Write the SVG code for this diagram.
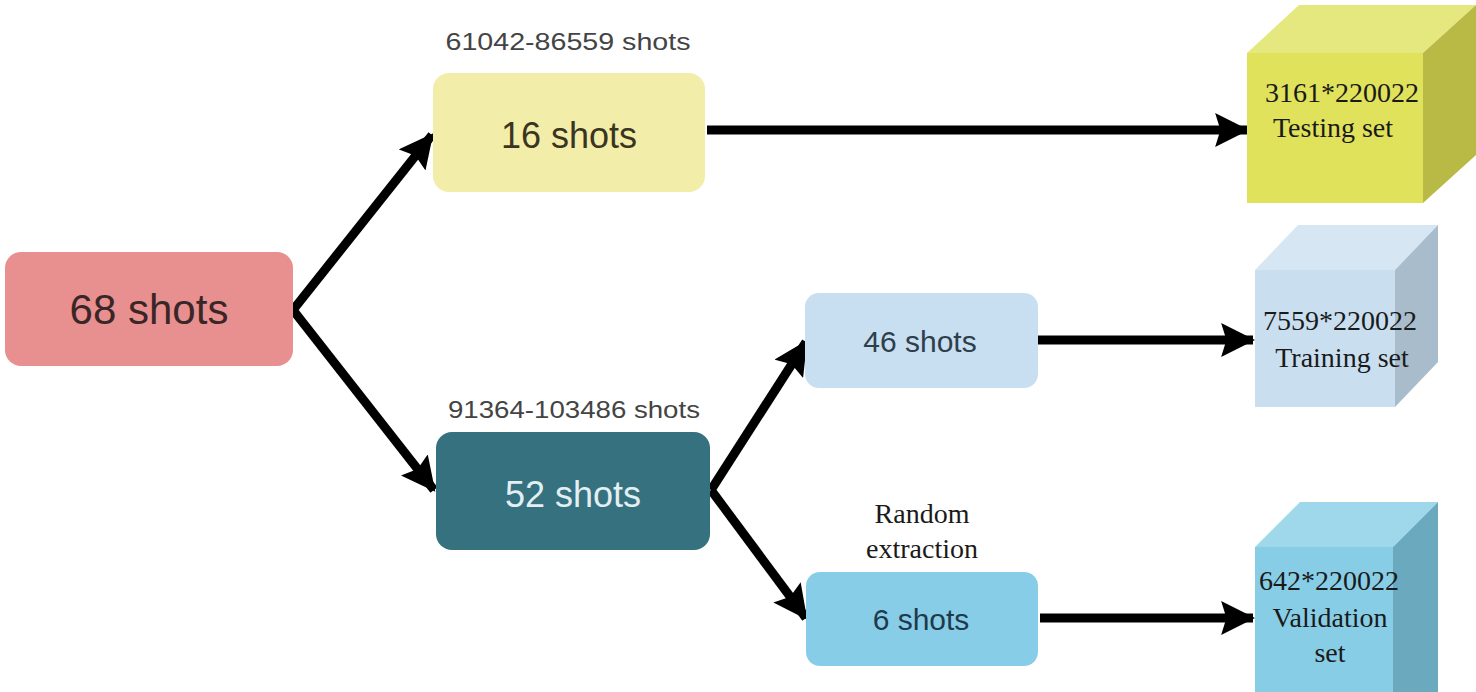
<svg xmlns="http://www.w3.org/2000/svg" width="1476" height="692" viewBox="0 0 1476 692">
<style>
.sans{font-family:"Liberation Sans","Noto Sans",Arial,sans-serif;text-anchor:middle}
.serif{font-family:"Liberation Serif","Times New Roman",serif;text-anchor:middle;fill:#1a1a1a;font-size:28px}
.lbl{font-size:24px;fill:#444}
.conn{stroke:#000;stroke-width:9;fill:none;marker-end:url(#ah)}
</style>
<defs>
<marker id="ah" markerUnits="userSpaceOnUse" markerWidth="34" markerHeight="34" refX="30" refY="16" orient="auto" viewBox="0 0 32 32">
<path d="M0,0 L32,16 L0,32 L5,16 Z" fill="#000"/>
</marker>
</defs>
<rect width="1476" height="692" fill="#fff"/>
<g id="connectors">
<line class="conn" x1="293" y1="310" x2="432" y2="135"/>
<line class="conn" x1="293" y1="310" x2="434" y2="490"/>
<line class="conn" x1="711" y1="490" x2="806" y2="342"/>
<line class="conn" x1="711" y1="490" x2="806" y2="618"/>
<line class="conn" x1="707" y1="130" x2="1247" y2="130"/>
<line class="conn" x1="1038" y1="340" x2="1253" y2="340"/>
<line class="conn" x1="1040" y1="618" x2="1253" y2="618"/>
</g>
<g id="n68">
<rect x="5" y="252" width="288" height="114" rx="16" fill="#e88f8f"/>
<text class="sans" x="149" y="324" font-size="42" fill="#3a2626">68 shots</text>
</g>
<g id="n16">
<text class="sans lbl" x="568" y="50" textLength="245" lengthAdjust="spacingAndGlyphs">61042-86559 shots</text>
<rect x="433" y="73" width="272" height="119" rx="16" fill="#f2eda8"/>
<text class="sans" x="569" y="148" font-size="36" fill="#3a3520">16 shots</text>
</g>
<g id="n52">
<text class="sans lbl" x="574" y="418" textLength="252" lengthAdjust="spacingAndGlyphs">91364-103486 shots</text>
<rect x="436" y="432" width="274" height="118" rx="16" fill="#36717f"/>
<text class="sans" x="573" y="507" font-size="36" fill="#e2eff3">52 shots</text>
</g>
<g id="n46">
<rect x="805" y="293" width="233" height="95" rx="14" fill="#c7dff1"/>
<text class="sans" x="920" y="352" font-size="30" fill="#2f3e4b">46 shots</text>
</g>
<g id="n6">
<text class="serif" x="922" y="523">Random</text>
<text class="serif" x="922" y="558">extraction</text>
<rect x="806" y="572" width="232" height="94" rx="14" fill="#88cde8"/>
<text class="sans" x="921" y="630" font-size="30" fill="#1f3a4a">6 shots</text>
</g>
<g id="testing">
<polygon points="1247,53 1299,5 1476,5 1423,53" fill="#e5e77f"/>
<polygon points="1423,53 1476,5 1476,155 1423,203" fill="#b8ba45"/>
<rect x="1247" y="53" width="176" height="150" fill="#dfe25a"/>
<text class="serif" x="1342" y="102">3161*220022</text>
<text class="serif" x="1333" y="137">Testing set</text>
</g>
<g id="training">
<polygon points="1255,270 1298,225 1438,225 1395,270" fill="#d6e6f3"/>
<polygon points="1395,270 1438,225 1438,362 1395,407" fill="#a9bccb"/>
<rect x="1255" y="270" width="140" height="137" fill="#c9dff0"/>
<text class="serif" x="1340" y="330">7559*220022</text>
<text class="serif" x="1342" y="367">Training set</text>
</g>
<g id="validation">
<polygon points="1255,547 1300,502 1438,502 1393,547" fill="#9fd7eb"/>
<polygon points="1393,547 1438,502 1438,692 1393,692" fill="#6aa9be"/>
<rect x="1255" y="547" width="138" height="145" fill="#88cde6"/>
<text class="serif" x="1329" y="590">642*220022</text>
<text class="serif" x="1330" y="627">Validation</text>
<text class="serif" x="1330" y="662">set</text>
</g>
</svg>
